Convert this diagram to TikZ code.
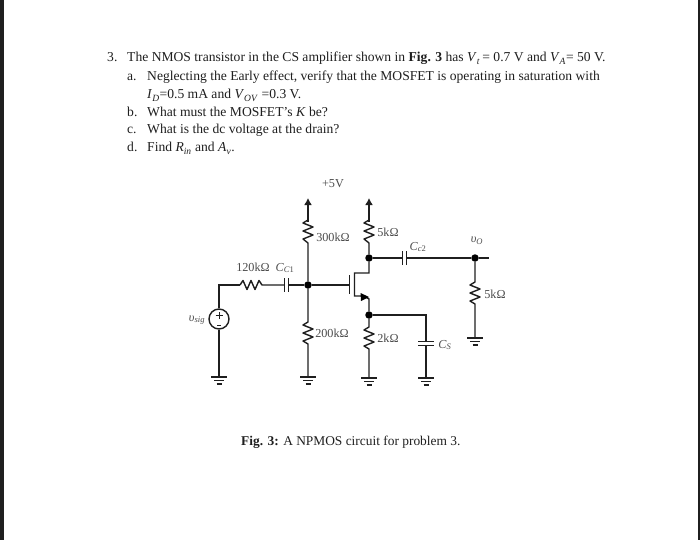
\documentclass[tikz,border=0pt]{standalone}
\usepackage{fontspec}
\setmainfont{Liberation Serif}
\usetikzlibrary{arrows.meta}
\definecolor{ink}{gray}{0.12}
\definecolor{soft}{gray}{0.3}
\tikzset{
  x=1pt,y=-1pt,
  wire/.style={draw=ink,line width=1.4pt},
  dotnode/.style={circle,fill=black,inner sep=0pt,minimum size=7.5pt},
  body/.style={anchor=base west,inner sep=0pt,text=ink,font=\fontsize{13.6}{15}\selectfont},
  lab/.style={inner sep=0pt,text=soft,font=\fontsize{12.2}{14}\selectfont},
  gndbar/.style={draw=ink,line width=1.3pt},
}
\newcommand{\gnd}[2]{%
  \draw[gndbar] (#1-8,#2) -- (#1+8,#2);
  \draw[gndbar] (#1-5,#2+3.5) -- (#1+5,#2+3.5);
  \draw[gndbar] (#1-2.5,#2+7) -- (#1+2.5,#2+7);
}
\begin{document}
\begin{tikzpicture}
\useasboundingbox (0,0) rectangle (700,540);
\fill[white] (0,0) rectangle (700,540);
\fill[black!88] (0,0) rectangle (3.5,540);
\fill[black!88] (698,0) rectangle (700,540);
% text
\node[body] at (107,62) {3.};
\node[body] at (127,62) {The NMOS transistor in the CS amplifier shown in \textbf{Fig. 3} has \textit{V}\textsubscript{\textit{t}}\,= 0.7 V and \textit{V}\textsubscript{\textit{A}}= 50 V.};
\node[body] at (127,81) {a.};
\node[body] at (147,81) {Neglecting the Early effect, verify that the MOSFET is operating in saturation with};
\node[body] at (147,99) {\textit{I}\textsubscript{\textit{D}}=0.5 mA and \textit{V}\textsubscript{\textit{OV}} =0.3 V.};
\node[body] at (127,117) {b.};
\node[body] at (147,117) {What must the MOSFET's \textit{K} be?};
\node[body] at (127,134) {c.};
\node[body] at (147,134) {What is the dc voltage at the drain?};
\node[body] at (127,152) {d.};
\node[body] at (147,152) {Find \textit{R}\textsubscript{\textit{in}} and \textit{A}\textsubscript{\textit{v}}.};
\node[body,font=\fontsize{13.4}{15}\selectfont] at (241,445) {\textbf{Fig. 3:} A NPMOS circuit for problem 3.};
% named points
\node[dotnode] (gate) at (308,285) {};
\node[dotnode] (drain) at (369,258) {};
\node[dotnode] (out) at (475,258) {};
\node[dotnode] (src) at (369,315) {};
\coordinate (vdda) at (308,198);
\coordinate (vddb) at (369,198);
\coordinate (corner) at (219,285);
\coordinate (outend) at (489,258);
% left branch
\node[circle,draw=ink,line width=1.4pt,minimum size=20pt,inner sep=0pt] (vs) at (219,319) {};
\draw[ink,line width=.9pt] (215.5,315.5) -- (222.5,315.5) (219,312) -- (219,319);
\draw[ink,line width=.9pt] (217,325) -- (221,325);
\draw[wire] (vs.north) -- (corner) -- (240,285);
\draw[wire] (vs.south) -- (219,377);
\gnd{219}{377}
% 120k + Cc1
\draw[wire,line join=round] (240,285) -- (243,280.5) -- (247,289.5) -- (251,280.5) -- (255,289.5) -- (259,280.5) -- (262,285) -- (284,285);
\draw[wire] (284.5,278) -- (284.5,292) (288.5,278) -- (288.5,292);
\draw[wire] (288.5,285) -- (gate);
% gate column
\draw[wire,-{Latex[length=7pt,width=8pt]}] (308,222) -- (vdda);
\draw[wire,line join=round] (308,220) -- (303,223) -- (313,227) -- (303,231) -- (313,235) -- (303,239) -- (308,243) -- (gate);
\draw[wire,line join=round] (gate) -- (308,322) -- (303,325) -- (313,329) -- (303,333) -- (313,337) -- (303,341) -- (308,344) -- (308,377);
\gnd{308}{377}
% drain column
\draw[wire,-{Latex[length=7pt,width=8pt]}] (369,222) -- (vddb);
\draw[wire,line join=round] (369,220) -- (364,223) -- (374,227) -- (364,231) -- (374,235) -- (364,239) -- (369,243) -- (drain);
% MOSFET
\draw[wire] (gate) -- (349,285);
\draw[wire] (349.5,275) -- (349.5,294);
\draw[wire] (drain) -- (369,273) -- (354.5,273) -- (354.5,296) -- (364,296) -- (369,299) -- (src);
\fill[black] (369,297) -- (360.5,293) -- (361,301) -- cycle;
% source
\draw[wire,line join=round] (src) -- (369,327) -- (364,330) -- (374,334) -- (364,338) -- (374,342) -- (364,346) -- (369,349) -- (369,378);
\gnd{369}{378}
\draw[wire] (src) -- (426,315) -- (426,341);
\draw[wire] (418,341.5) -- (434,341.5) (418,345.5) -- (434,345.5);
\draw[wire] (426,345.5) -- (426,378);
\gnd{426}{378}
% output
\draw[wire] (drain) -- (402,258);
\draw[wire] (402.5,251) -- (402.5,265) (406.5,251) -- (406.5,265);
\draw[wire] (406.5,258) -- (out) -- (outend);
\draw[wire,line join=round] (out) -- (475,282) -- (470,285) -- (480,289) -- (470,293) -- (480,297) -- (470,301) -- (475,304) -- (475,338);
\gnd{475}{338}
% labels
\node[lab] at (333,184) {+5V};
\node[lab] at (333,237) {300kΩ};
\node[lab] at (388,232) {5kΩ};
\node[lab] at (253,267) {120kΩ};
\node[lab] at (285,268) {\textit{C}\textsubscript{\textit{C}1}};
\node[lab] at (418,247) {\textit{C}\textsubscript{\textit{c}2}};
\node[lab] at (477,241) {\textit{υ}\textsubscript{\textit{O}}};
\node[lab] at (495,294) {5kΩ};
\node[lab,text=soft] at (197,320) {\textit{υ}\textsubscript{\textit{sig}}};
\node[lab] at (332,333) {200kΩ};
\node[lab] at (388,338) {2kΩ};
\node[lab] at (445,345) {\textit{C}\textsubscript{\textit{S}}};
\end{tikzpicture}
\end{document}
